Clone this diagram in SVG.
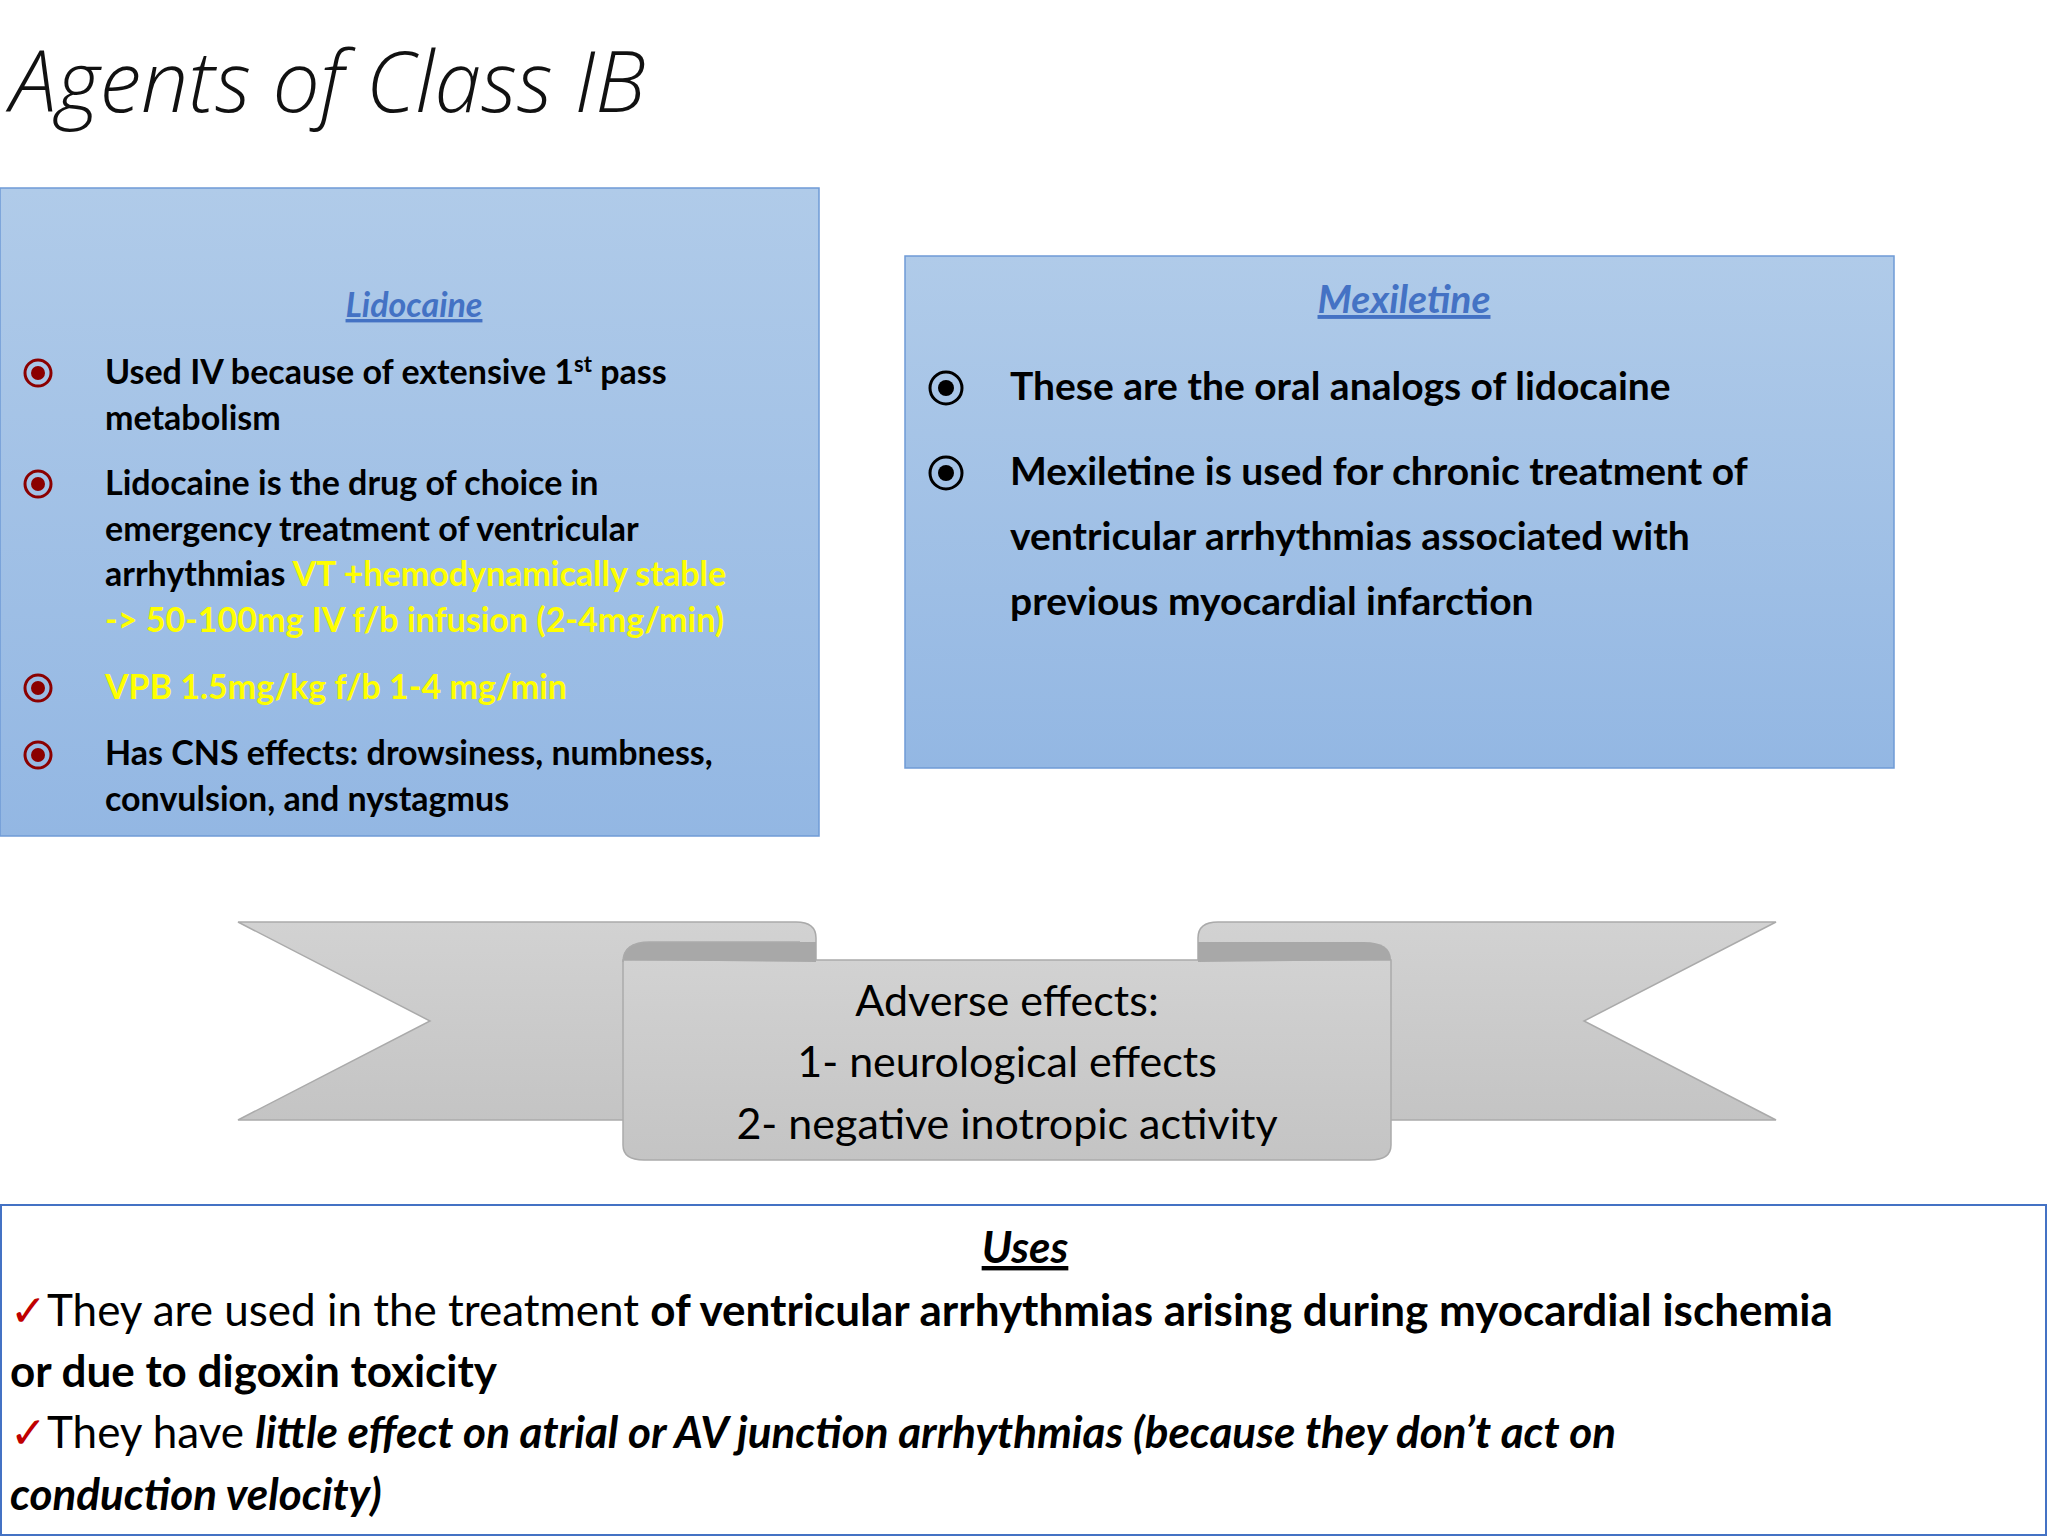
<svg xmlns="http://www.w3.org/2000/svg" width="2048" height="1536" viewBox="0 0 2048 1536">
<defs>
<linearGradient id="bl" x1="0" y1="0" x2="0" y2="1"><stop offset="0" stop-color="#b0cbe9"/><stop offset="1" stop-color="#93b7e3"/></linearGradient>
<linearGradient id="gr" x1="0" y1="0" x2="0" y2="1"><stop offset="0" stop-color="#d2d2d2"/><stop offset="1" stop-color="#c4c4c4"/></linearGradient>
<style>
.t{font-family:Lato,"Open Sans",sans-serif;}
.b{font-weight:bold;font-size:34px;fill:#000;}
.m{font-weight:bold;font-size:39px;fill:#000;}
.y{fill:#ffff00;}
.hd{font-weight:bold;font-style:italic;text-decoration:underline;fill:#4472c4;}
.rb{font-size:43px;fill:#000;}
.u{font-size:44px;fill:#000;}
</style>
</defs>
<rect width="2048" height="1536" fill="#fff"/>
<text x="10" y="112" font-family="'Open Sans',sans-serif" font-weight="300" font-style="italic" font-size="84" fill="#111">Agents of Class IB</text>
<g id="lidocaine">
<rect x="0" y="188" width="819" height="648" fill="url(#bl)" stroke="#6f9bd6" stroke-width="1.5"/>
<text class="t hd" x="414" y="317" font-size="34" text-anchor="middle">Lidocaine</text>
<g fill="#8b0000" stroke="#8b0000">
<circle cx="38" cy="373" r="13" fill="none" stroke-width="3"/><circle cx="38" cy="373" r="7" stroke="none"/>
<circle cx="38" cy="484" r="13" fill="none" stroke-width="3"/><circle cx="38" cy="484" r="7" stroke="none"/>
<circle cx="38" cy="688" r="13" fill="none" stroke-width="3"/><circle cx="38" cy="688" r="7" stroke="none"/>
<circle cx="38" cy="755" r="13" fill="none" stroke-width="3"/><circle cx="38" cy="755" r="7" stroke="none"/>
</g>
<text class="t b" x="105" y="384">Used IV because of extensive 1<tspan font-size="22" dy="-12">st</tspan><tspan dy="12"> pass</tspan></text>
<text class="t b" x="105" y="430">metabolism</text>
<text class="t b" x="105" y="495">Lidocaine is the drug of choice in</text>
<text class="t b" x="105" y="541">emergency treatment of ventricular</text>
<text class="t b" x="105" y="586">arrhythmias <tspan class="y">VT +hemodynamically stable</tspan></text>
<text class="t b y" x="105" y="632">-&gt; 50-100mg IV f/b infusion (2-4mg/min)</text>
<text class="t b y" x="105" y="699">VPB 1.5mg/kg f/b 1-4 mg/min</text>
<text class="t b" x="105" y="765">Has CNS effects: drowsiness, numbness,</text>
<text class="t b" x="105" y="811">convulsion, and nystagmus</text>
</g>
<g id="mexiletine">
<rect x="905" y="256" width="989" height="512" fill="url(#bl)" stroke="#6f9bd6" stroke-width="1.5"/>
<text class="t hd" x="1404" y="313" font-size="39" text-anchor="middle">Mexiletine</text>
<g fill="#000" stroke="#000">
<circle cx="946" cy="388" r="16" fill="none" stroke-width="3"/><circle cx="946" cy="388" r="8" stroke="none"/>
<circle cx="946" cy="473" r="16" fill="none" stroke-width="3"/><circle cx="946" cy="473" r="8" stroke="none"/>
</g>
<text class="t m" x="1010" y="400">These are the oral analogs of lidocaine</text>
<text class="t m" x="1010" y="485">Mexiletine is used for chronic treatment of</text>
<text class="t m" x="1010" y="550">ventricular arrhythmias associated with</text>
<text class="t m" x="1010" y="615">previous myocardial infarction</text>
</g>
<g id="adverse">
<path d="M238,922 L796,922 Q816,922 816,938 L816,1120 L238,1120 L430,1021 Z" fill="url(#gr)" stroke="#aaa" stroke-width="1.5"/>
<path d="M1776,922 L1218,922 Q1198,922 1198,938 L1198,1120 L1776,1120 L1584,1021 Z" fill="url(#gr)" stroke="#aaa" stroke-width="1.5"/>
<path d="M623,960 L1391,960 L1391,1145 Q1391,1160 1370,1160 L644,1160 Q623,1160 623,1145 Z" fill="url(#gr)" stroke="#aaa" stroke-width="1.5"/>
<path d="M623,960 Q623,942 650,942 L816,942 L816,962 Z" fill="#a8a8a8"/>
<path d="M1391,960 Q1391,942 1364,942 L1198,942 L1198,962 Z" fill="#a8a8a8"/>
<path d="M623,962 Q623,942 650,942 L800,942" fill="none" stroke="#aaa" stroke-width="1.5"/>
<text class="t rb" x="1007" y="1016" text-anchor="middle">Adverse effects:</text>
<text class="t rb" x="1007" y="1077" text-anchor="middle">1- neurological effects</text>
<text class="t rb" x="1007" y="1139" text-anchor="middle">2- negative inotropic activity</text>
</g>
<g id="uses">
<rect x="1" y="1205" width="2045" height="330" fill="#fff" stroke="#4472c4" stroke-width="2"/>
<text class="t u" x="1025" y="1263" text-anchor="middle" font-weight="bold" font-style="italic" text-decoration="underline">Uses</text>
<text class="t u" x="10" y="1326"><tspan fill="#c00000">✓</tspan>They are used in the treatment <tspan font-weight="bold">of ventricular arrhythmias arising during myocardial ischemia</tspan></text>
<text class="t u" x="10" y="1387" font-weight="bold">or due to digoxin toxicity</text>
<text class="t u" x="10" y="1448"><tspan fill="#c00000">✓</tspan>They have <tspan font-weight="bold" font-style="italic">little effect on atrial or AV junction arrhythmias (because they don’t act on</tspan></text>
<text class="t u" x="10" y="1510" font-weight="bold" font-style="italic">conduction velocity)</text>
</g>
</svg>
